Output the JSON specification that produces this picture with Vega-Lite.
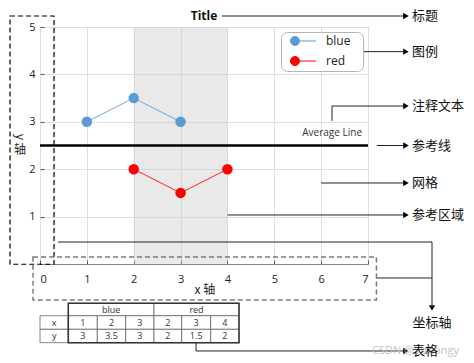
{
  "$schema": "https://vega.github.io/schema/vega-lite/v6.json",
  "width": 328,
  "height": 237,
  "autosize": {"type": "none"},
  "padding": {"left": 40, "top": 27, "right": 106, "bottom": 99},
  "background": "white",
  "title": {"text": "Title", "font": "Open Sans", "fontSize": 12, "fontWeight": "bold", "color": "#111", "offset": -13, "anchor": "middle"},
  "config": {
    "font": "Open Sans",
    "view": {"stroke": "#8a8a8a", "strokeWidth": 1},
    "axis": {"domain": false, "grid": true, "gridColor": "#dedede", "gridWidth": 1, "tickColor": "#555", "tickSize": -4, "labelFont": "Open Sans", "labelFontSize": 11, "labelColor": "#222"},
    "legend": {"orient": "top-right", "offset": 5, "padding": 2.5, "strokeColor": "#b5b5b5", "fillColor": "white", "cornerRadius": 6,
               "symbolType": "M0.083,0 A0.75,0.75 0 1,1 1.583,0 A0.75,0.75 0 1,1 0.083,0 M1.583,0 L4.33,0", "symbolSize": 144, "symbolStrokeWidth": 1, "symbolOpacity": 1,
               "labelFont": "Open Sans", "labelFontSize": 12, "labelColor": "#222", "labelOffset": 29.5, "rowPadding": 5,
               "titleOrient": "right", "titleColor": "transparent", "titleFontSize": 12, "titlePadding": 6}
  },
  "datasets": {
    "pts": [
      {"series": "blue", "x": 1, "y": 3},
      {"series": "blue", "x": 2, "y": 3.5},
      {"series": "blue", "x": 3, "y": 3},
      {"series": "red", "x": 2, "y": 2},
      {"series": "red", "x": 3, "y": 1.5},
      {"series": "red", "x": 4, "y": 2}
    ],
    "segs": [
      {"x": 3.88, "x2": 7.78, "y": 5.232, "y2": 5.232},
      {"x": 6.893, "x2": 7.78, "y": 4.48, "y2": 4.48},
      {"x": 6.232, "x2": 6.232, "y": 3.02, "y2": 3.333},
      {"x": 6.232, "x2": 7.78, "y": 3.333, "y2": 3.333},
      {"x": 7.19, "x2": 7.78, "y": 2.5, "y2": 2.5},
      {"x": 6.0, "x2": 7.78, "y": 1.709, "y2": 1.709},
      {"x": 4.0, "x2": 7.78, "y": 1.034, "y2": 1.034},
      {"x": 0.384, "x2": 8.366, "y": 0.464, "y2": 0.464},
      {"x": 8.366, "x2": 8.366, "y": 0.464, "y2": -0.87},
      {"x": 7.18, "x2": 8.366, "y": -0.295, "y2": -0.295},
      {"x": 3.33, "x2": 3.33, "y": -1.66, "y2": -1.835},
      {"x": 3.33, "x2": 7.78, "y": -1.835, "y2": -1.835}
    ],
    "heads": [
      {"x": 7.81, "y": 5.232, "dir": "right"},
      {"x": 7.81, "y": 4.48, "dir": "right"},
      {"x": 7.81, "y": 3.333, "dir": "right"},
      {"x": 7.81, "y": 2.5, "dir": "right"},
      {"x": 7.81, "y": 1.709, "dir": "right"},
      {"x": 7.81, "y": 1.034, "dir": "right"},
      {"x": 7.81, "y": -1.835, "dir": "right"},
      {"x": 8.366, "y": -0.93, "dir": "down"}
    ],
    "labels": [
      {"x": 7.94, "y": 5.232, "text": "标题"},
      {"x": 7.94, "y": 4.473, "text": "图例"},
      {"x": 7.94, "y": 3.333, "text": "注释文本"},
      {"x": 7.94, "y": 2.5, "text": "参考线"},
      {"x": 7.94, "y": 1.709, "text": "网格"},
      {"x": 7.94, "y": 1.034, "text": "参考区域"},
      {"x": 7.94, "y": -1.835, "text": "表格"}
    ],
    "cells": [
      {"x": 0.604, "x2": 2.433, "y": -0.829, "y2": -1.091, "tx": 1.5185, "ty": -0.96, "text": "blue"},
      {"x": 2.433, "x2": 4.247, "y": -0.829, "y2": -1.091, "tx": 3.34, "ty": -0.96, "text": "red"},
      {"x": 0, "x2": 0.604, "y": -1.091, "y2": -1.378, "tx": 0.302, "ty": -1.2345, "text": "x"},
      {"x": 0.604, "x2": 1.223, "y": -1.091, "y2": -1.378, "tx": 0.9135, "ty": -1.2345, "text": "1"},
      {"x": 1.223, "x2": 1.829, "y": -1.091, "y2": -1.378, "tx": 1.526, "ty": -1.2345, "text": "2"},
      {"x": 1.829, "x2": 2.433, "y": -1.091, "y2": -1.378, "tx": 2.131, "ty": -1.2345, "text": "3"},
      {"x": 2.433, "x2": 3.024, "y": -1.091, "y2": -1.378, "tx": 2.7285, "ty": -1.2345, "text": "2"},
      {"x": 3.024, "x2": 3.643, "y": -1.091, "y2": -1.378, "tx": 3.3335, "ty": -1.2345, "text": "3"},
      {"x": 3.643, "x2": 4.247, "y": -1.091, "y2": -1.378, "tx": 3.945, "ty": -1.2345, "text": "4"},
      {"x": 0, "x2": 0.604, "y": -1.378, "y2": -1.66, "tx": 0.302, "ty": -1.519, "text": "y"},
      {"x": 0.604, "x2": 1.223, "y": -1.378, "y2": -1.66, "tx": 0.9135, "ty": -1.519, "text": "3"},
      {"x": 1.223, "x2": 1.829, "y": -1.378, "y2": -1.66, "tx": 1.526, "ty": -1.519, "text": "3.5"},
      {"x": 1.829, "x2": 2.433, "y": -1.378, "y2": -1.66, "tx": 2.131, "ty": -1.519, "text": "3"},
      {"x": 2.433, "x2": 3.024, "y": -1.378, "y2": -1.66, "tx": 2.7285, "ty": -1.519, "text": "2"},
      {"x": 3.024, "x2": 3.643, "y": -1.378, "y2": -1.66, "tx": 3.3335, "ty": -1.519, "text": "1.5"},
      {"x": 3.643, "x2": 4.247, "y": -1.378, "y2": -1.66, "tx": 3.945, "ty": -1.519, "text": "2"}
    ]
  },
  "layer": [
    {
      "data": {"values": [{"from": 2, "to": 4}]},
      "mark": {"type": "rect", "fill": "#c8c8c8", "fillOpacity": 0.4},
      "encoding": {
        "x": {"field": "from", "type": "quantitative", "scale": {"domain": [0, 7], "nice": false, "zero": false},
              "axis": {"values": [0, 1, 2, 3, 4, 5, 6, 7], "title": null, "labelPadding": 13}},
        "x2": {"field": "to"},
        "y": {"datum": 0, "type": "quantitative", "scale": {"domain": [0, 5], "nice": false, "zero": false},
              "axis": {"values": [1, 2, 3, 4, 5], "title": null, "labelPadding": 9}},
        "y2": {"datum": 5}
      }
    },
    {
      "data": {"values": [{"level": 2.5}]},
      "mark": {"type": "rule", "color": "#000", "strokeWidth": 2.6},
      "encoding": {
        "y": {"field": "level", "type": "quantitative"},
        "x": {"datum": 0, "type": "quantitative"},
        "x2": {"datum": 7}
      }
    },
    {
      "data": {"name": "pts"},
      "mark": {"type": "line", "strokeWidth": 1, "opacity": 0.85},
      "encoding": {
        "x": {"field": "x", "type": "quantitative"},
        "y": {"field": "y", "type": "quantitative"},
        "color": {"field": "series", "type": "nominal", "title": "·", "scale": {"domain": ["blue", "red"], "range": ["#5b9bd5", "#ff0000"]}}
      }
    },
    {
      "data": {"name": "pts"},
      "mark": {"type": "point", "filled": true, "size": 110, "opacity": 1},
      "encoding": {
        "x": {"field": "x", "type": "quantitative"},
        "y": {"field": "y", "type": "quantitative"},
        "color": {"field": "series", "type": "nominal", "title": "·"}
      }
    },
    {
      "data": {"values": [{"x": 6.872, "y": 2.764, "text": "Average Line"}]},
      "mark": {"type": "text", "align": "right", "baseline": "middle", "font": "Open Sans", "fontSize": 10, "color": "#333"},
      "encoding": {"x": {"field": "x", "type": "quantitative"}, "y": {"field": "y", "type": "quantitative"}, "text": {"field": "text"}}
    },
    {
      "data": {"name": "segs"},
      "mark": {"type": "rule", "color": "#222", "strokeWidth": 1},
      "encoding": {
        "x": {"field": "x", "type": "quantitative"}, "x2": {"field": "x2"},
        "y": {"field": "y", "type": "quantitative"}, "y2": {"field": "y2"}
      }
    },
    {
      "data": {"name": "heads"},
      "mark": {"type": "point", "filled": true, "size": 40, "color": "#000", "opacity": 1},
      "encoding": {
        "x": {"field": "x", "type": "quantitative"},
        "y": {"field": "y", "type": "quantitative"},
        "shape": {"field": "dir", "type": "nominal", "scale": {"domain": ["right", "down"], "range": ["triangle-right", "triangle-down"]}, "legend": null}
      }
    },
    {
      "data": {"values": [{"x": 7.085, "y": -1.835, "text": "CSDN @Yizhangy"}]},
      "mark": {"type": "text", "align": "left", "baseline": "middle", "font": "Open Sans", "fontSize": 11, "color": "#c4c4c4"},
      "encoding": {"x": {"field": "x", "type": "quantitative"}, "y": {"field": "y", "type": "quantitative"}, "text": {"field": "text"}}
    },
    {
      "data": {"name": "labels"},
      "mark": {"type": "text", "align": "left", "baseline": "middle", "font": "Noto Sans CJK SC", "fontSize": 13, "color": "#111"},
      "encoding": {"x": {"field": "x", "type": "quantitative"}, "y": {"field": "y", "type": "quantitative"}, "text": {"field": "text"}}
    },
    {
      "data": {"values": [{"x": 8.366, "y": -1.245, "text": "坐标轴"}]},
      "mark": {"type": "text", "align": "center", "baseline": "middle", "font": "Noto Sans CJK SC", "fontSize": 13, "color": "#111"},
      "encoding": {"x": {"field": "x", "type": "quantitative"}, "y": {"field": "y", "type": "quantitative"}, "text": {"field": "text"}}
    },
    {
      "data": {"values": [{"x": 3.52, "y": -0.549, "text": "x 轴"}]},
      "mark": {"type": "text", "align": "center", "baseline": "middle", "font": "Noto Sans CJK SC", "fontSize": 12, "color": "#222"},
      "encoding": {"x": {"field": "x", "type": "quantitative"}, "y": {"field": "y", "type": "quantitative"}, "text": {"field": "text"}}
    },
    {
      "data": {"values": [{"x": -0.427, "y": 2.68, "text": "y"}]},
      "mark": {"type": "text", "align": "center", "baseline": "middle", "font": "Open Sans", "fontSize": 12, "color": "#222", "angle": 90},
      "encoding": {"x": {"field": "x", "type": "quantitative"}, "y": {"field": "y", "type": "quantitative"}, "text": {"field": "text"}}
    },
    {
      "data": {"values": [{"x": -0.427, "y": 2.405, "text": "轴"}]},
      "mark": {"type": "text", "align": "center", "baseline": "middle", "font": "Noto Sans CJK SC", "fontSize": 12, "color": "#222"},
      "encoding": {"x": {"field": "x", "type": "quantitative"}, "y": {"field": "y", "type": "quantitative"}, "text": {"field": "text"}}
    },
    {
      "data": {"values": [{"x": -0.64, "x2": 0.299, "y": 5.232, "y2": -0.005}]},
      "mark": {"type": "rect", "fillOpacity": 0, "stroke": "#000", "strokeWidth": 1.2, "strokeDash": [5, 3]},
      "encoding": {"x": {"field": "x", "type": "quantitative"}, "x2": {"field": "x2"}, "y": {"field": "y", "type": "quantitative"}, "y2": {"field": "y2"}}
    },
    {
      "data": {"values": [{"x": -0.149, "x2": 7.18, "y": 0.148, "y2": -0.759}]},
      "mark": {"type": "rect", "fillOpacity": 0, "stroke": "#7a7a7a", "strokeWidth": 1.5, "strokeDash": [5, 3]},
      "encoding": {"x": {"field": "x", "type": "quantitative"}, "x2": {"field": "x2"}, "y": {"field": "y", "type": "quantitative"}, "y2": {"field": "y2"}}
    },
    {
      "data": {"name": "cells"},
      "mark": {"type": "rect", "fill": "white", "stroke": "#666", "strokeWidth": 0.8},
      "encoding": {"x": {"field": "x", "type": "quantitative"}, "x2": {"field": "x2"}, "y": {"field": "y", "type": "quantitative"}, "y2": {"field": "y2"}}
    },
    {
      "data": {"values": [{"x": 0.604, "x2": 4.247, "y": -0.829, "y2": -1.66}]},
      "mark": {"type": "rect", "fillOpacity": 0, "stroke": "#333", "strokeWidth": 1.5},
      "encoding": {"x": {"field": "x", "type": "quantitative"}, "x2": {"field": "x2"}, "y": {"field": "y", "type": "quantitative"}, "y2": {"field": "y2"}}
    },
    {
      "data": {"name": "cells"},
      "mark": {"type": "text", "align": "center", "baseline": "middle", "font": "Open Sans", "fontSize": 9, "color": "#333"},
      "encoding": {"x": {"field": "tx", "type": "quantitative"}, "y": {"field": "ty", "type": "quantitative"}, "text": {"field": "text"}}
    }
  ]
}
